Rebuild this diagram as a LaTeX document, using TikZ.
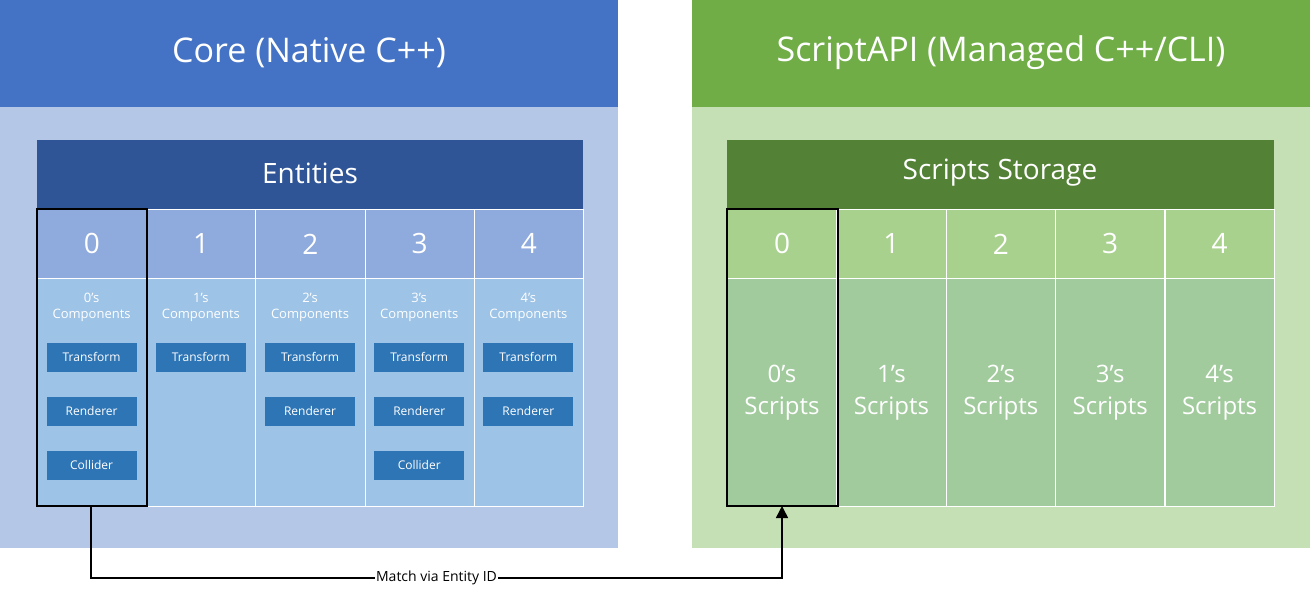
\documentclass[tikz,border=0pt]{standalone}
\usepackage{fontspec}
\setmainfont{Open Sans}
\usetikzlibrary{arrows.meta}
\definecolor{coreHead}{HTML}{4472C4}
\definecolor{coreBody}{HTML}{B4C7E7}
\definecolor{entHead}{HTML}{2F5597}
\definecolor{entNum}{HTML}{8FAADC}
\definecolor{entCell}{HTML}{9DC3E6}
\definecolor{compBox}{HTML}{2E75B6}
\definecolor{apiHead}{HTML}{70AD47}
\definecolor{apiBody}{HTML}{C5E0B4}
\definecolor{scrHead}{HTML}{538135}
\definecolor{scrNum}{HTML}{A9D18E}
\definecolor{scrCell}{HTML}{A1CB9D}
\tikzset{
  panel/.style={inner sep=0pt,anchor=north west},
  cell/.style={draw=white,line width=0.8pt,inner sep=0pt,anchor=north west,minimum width=109.2pt},
  comp/.style={fill=compBox,text=white,inner sep=0pt,minimum width=90pt,minimum height=29pt,font=\fontsize{12}{14}\selectfont},
  pick/.style={draw=black,line width=2pt}
}
\begin{document}
\begin{tikzpicture}[x=1pt,y=-1pt]
\useasboundingbox (0,0) rectangle (1312,595);
% core side
\fill[coreBody] (0,0) rectangle (618,548);
\fill[coreHead] (0,0) rectangle (618,107);
\node[text=white,font=\fontsize{34}{40}\selectfont] (coreTitle) at (309,53) {Core (Native C++)};
\fill[entHead] (37,140) rectangle (583,209);
\node[text=white,font=\fontsize{28}{34}\selectfont] (entTitle) at (310,173) {Entities};
\foreach \i in {0,...,4}{
  \node[cell,fill=entNum,minimum height=69pt,text=white,font=\fontsize{28}{34}\selectfont] (num\i) at (37+109.2*\i,209) {\i};
  \node[cell,fill=entCell,minimum height=228pt] (col\i) at (37+109.2*\i,278) {};
  \node[text=white,align=center,font=\fontsize{13}{16}\selectfont] (lab\i) at (91.6+109.2*\i,307) {\i's\\Components};
  \node[comp] (tr\i) at (91.6+109.2*\i,357) {Transform};
}
\foreach \i in {0,2,3,4}{
  \node[comp] (re\i) at (91.6+109.2*\i,411) {Renderer};
}
\foreach \i in {0,3}{
  \node[comp] (co\i) at (91.6+109.2*\i,465) {Collider};
}
\draw[pick] (37,209) rectangle (147,506);
% script side
\fill[apiBody] (692,0) rectangle (1310,548);
\fill[apiHead] (692,0) rectangle (1310,107);
\node[text=white,font=\fontsize{34}{40}\selectfont] (apiTitle) at (1001,53) {ScriptAPI (Managed C++/CLI)};
\fill[scrHead] (727,140) rectangle (1274,209);
\node[text=white,font=\fontsize{28}{34}\selectfont] (scrTitle) at (1000,173) {Scripts Storage};
\foreach \i in {0,...,4}{
  \node[cell,fill=scrNum,minimum height=69pt,text=white,font=\fontsize{28}{34}\selectfont] (snum\i) at (727+109.4*\i,209) {\i};
  \node[cell,fill=scrCell,minimum height=228pt,text=white,align=center,font=\fontsize{24}{32}\selectfont] (scol\i) at (727+109.4*\i,278) {\i's\\Scripts};
}
\draw[pick] (727,209) rectangle (838,506);
% link
\coordinate (from) at (91,506);
\coordinate (to) at (782,506);
\draw[line width=1.5pt,-{Triangle[length=12pt,width=12pt]}] (from) -- (91,578) -- node[fill=white,inner sep=1pt,font=\fontsize{14}{16}\selectfont] (match) {Match via Entity ID} (782,578) -- (to);
\end{tikzpicture}
\end{document}
